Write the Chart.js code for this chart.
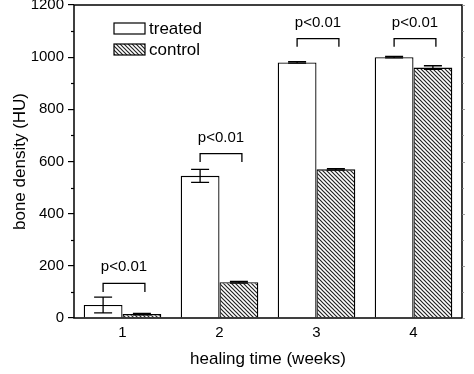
<!DOCTYPE html>
<html>
<head>
<meta charset="utf-8">
<script src="https://cdn.jsdelivr.net/npm/chart.js@4/dist/chart.umd.min.js"></script>
<style>
html,body{margin:0;padding:0;background:#fff;}
#wrap{width:474px;height:374px;}
</style>
</head>
<body>
<div id="wrap"><canvas id="c" width="474" height="374"></canvas></div>
<script>
const categories = ['1', '2', '3', '4'];
const treated = [50, 545, 980, 1000];
const treatedErr = [30, 25, 3, 3];
const control = [15, 137, 570, 960];
const controlErr = [3, 3, 3, 7];
const pLabels = ['p<0.01', 'p<0.01', 'p<0.01', 'p<0.01'];
const bracketTop = [133, 630, 1071, 1071];
const bracketLeg = [100, 598, 1040, 1040];
const yTicks = [0, 200, 400, 600, 800, 1000, 1200];

function makeHatch() {
  const s = 4;
  const c = document.createElement('canvas');
  c.width = s; c.height = s;
  const g = c.getContext('2d');
  g.fillStyle = '#fff';
  g.fillRect(0, 0, s, s);
  g.strokeStyle = '#222';
  g.lineWidth = 1.2;
  g.beginPath();
  g.moveTo(0, 0); g.lineTo(s, s);
  g.moveTo(-s, 0); g.lineTo(s, 2 * s);
  g.moveTo(0, -s); g.lineTo(2 * s, s);
  g.stroke();
  return document.getElementById('c').getContext('2d').createPattern(c, 'repeat');
}
const hatch = makeHatch();
const FONT = '"Liberation Sans", Arial, sans-serif';

const overlay = {
  id: 'overlay',
  afterDatasetsDraw(chart) {
    const ctx = chart.ctx;
    const y = chart.scales.y;
    const a = chart.chartArea;
    ctx.save();
    ctx.strokeStyle = '#000';
    ctx.fillStyle = '#000';
    // error bars
    [[0, treated, treatedErr], [1, control, controlErr]].forEach(([di, vals, errs]) => {
      const meta = chart.getDatasetMeta(di);
      meta.data.forEach((bar, i) => {
        const x = bar.x;
        const yt = y.getPixelForValue(vals[i] + errs[i]);
        const yb = y.getPixelForValue(vals[i] - errs[i]);
        const hw = 9;
        ctx.lineWidth = 1.3;
        ctx.beginPath();
        ctx.moveTo(x, yt); ctx.lineTo(x, yb);
        ctx.moveTo(x - hw, yt); ctx.lineTo(x + hw, yt);
        ctx.moveTo(x - hw, yb); ctx.lineTo(x + hw, yb);
        ctx.stroke();
      });
    });
    // brackets
    const m0 = chart.getDatasetMeta(0), m1 = chart.getDatasetMeta(1);
    ctx.font = '15px ' + FONT;
    ctx.textAlign = 'center';
    ctx.textBaseline = 'alphabetic';
    pLabels.forEach((lab, i) => {
      const x1 = m0.data[i].x;
      const x2 = m1.data[i].x + 3;
      const yt = y.getPixelForValue(bracketTop[i]);
      const yl = y.getPixelForValue(bracketLeg[i]);
      ctx.lineWidth = 1.3;
      ctx.beginPath();
      ctx.moveTo(x1, yl); ctx.lineTo(x1, yt); ctx.lineTo(x2, yt); ctx.lineTo(x2, yl);
      ctx.stroke();
      ctx.fillText(lab, (x1 + x2) / 2, yt - 12);
    });
    // frame
    ctx.lineWidth = 1.5;
    ctx.strokeRect(a.left, a.top, a.right - a.left, a.bottom - a.top);
    // minor / right ticks
    for (let v = 0; v <= 1200; v += 100) {
      const py = Math.round(y.getPixelForValue(v)) + 0.5;
      ctx.strokeStyle = '#000';
      ctx.lineWidth = 1.2;
      if (v % 200 !== 0) {
        ctx.beginPath();
        ctx.moveTo(a.left - 3, py); ctx.lineTo(a.left, py);
        ctx.stroke();
      }
      ctx.strokeStyle = '#888';
      ctx.lineWidth = 0.8;
      ctx.beginPath();
      ctx.moveTo(a.right, py); ctx.lineTo(a.right + (v % 200 ? 2 : 3), py);
      ctx.stroke();
    }
    // legend
    const ds = chart.data.datasets;
    const lx = 114, bw = 31, bh = 11;
    [[23, 0], [44, 1]].forEach(([ly, di]) => {
      ctx.fillStyle = ds[di].backgroundColor;
      ctx.fillRect(lx, ly, bw, bh);
      ctx.lineWidth = 1.2;
      ctx.strokeStyle = '#000';
      ctx.strokeRect(lx, ly, bw, bh);
      ctx.fillStyle = '#000';
      ctx.font = '17px ' + FONT;
      ctx.textAlign = 'left';
      ctx.textBaseline = 'middle';
      ctx.fillText(ds[di].label, lx + bw + 4, ly + bh / 2 + 1);
    });
    ctx.restore();
  }
};

new Chart(document.getElementById('c'), {
  type: 'bar',
  data: {
    labels: categories,
    datasets: [
      { label: 'treated', data: treated, backgroundColor: '#fff', borderColor: '#000', borderWidth: 1.3 },
      { label: 'control', data: control, backgroundColor: hatch, borderColor: '#000', borderWidth: 1.3 }
    ]
  },
  options: {
    responsive: false,
    animation: false,
    events: [],
    layout: { padding: { left: 0, right: 12, top: 5, bottom: 0 } },
    datasets: { bar: { categoryPercentage: 0.8, barPercentage: 1.0 } },
    plugins: { legend: { display: false }, tooltip: { enabled: false } },
    scales: {
      x: {
        grid: { display: false, drawTicks: false },
        border: { display: false },
        ticks: { color: '#000', font: { family: FONT, size: 15 }, padding: 6 },
        title: { display: true, text: 'healing time (weeks)', color: '#000', font: { family: FONT, size: 17 }, padding: { top: 0 } },
        afterFit(s) { s.height = 56; s.paddingLeft = 0; s.paddingRight = 0; }
      },
      y: {
        min: 0, max: 1200,
        afterBuildTicks(s) { s.ticks = yTicks.map(v => ({ value: v })); },
        grid: { drawOnChartArea: false, drawTicks: true, tickLength: 6, color: '#000', lineWidth: 1.2 },
        border: { display: false },
        ticks: { color: '#000', font: { family: FONT, size: 15 }, padding: 4, callback: (v) => String(v) },
        title: { display: true, text: 'bone density (HU)', color: '#000', font: { family: FONT, size: 17 }, padding: { top: 10, bottom: 4 } },
        afterFit(s) { s.width = 74; s.paddingTop = 0; s.paddingBottom = 0; }
      }
    }
  },
  plugins: [overlay]
});
</script>
</body>
</html>
